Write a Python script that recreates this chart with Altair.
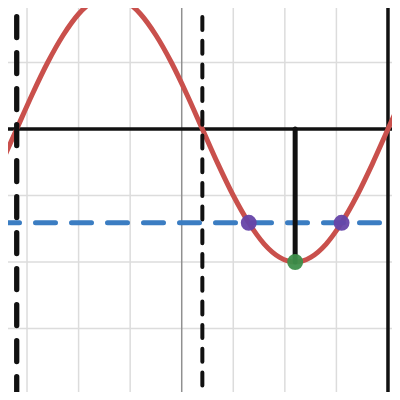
import altair as alt
import pandas as pd

# sine curve (x in grid units, y in grid units)
curve_x = [-7.8, -7.5, -7.2, -6.9, -6.6, -6.3, -6.0, -5.7, -5.4, -5.1, -4.8, -4.5, -4.2,
           -3.9, -3.6, -3.3, -3.0, -2.7, -2.4, -2.1, -1.8, -1.5, -1.2, -0.9, -0.6, -0.3,
           0.0, 0.3]
curve_y = [-1.0, -0.52, 0.0, 0.52, 1.0, 1.41, 1.73, 1.93, 2.0, 1.93, 1.73, 1.41, 1.0,
           0.52, 0.0, -0.52, -1.0, -1.41, -1.73, -1.93, -2.0, -1.93, -1.73, -1.41, -1.0,
           -0.52, 0.0, 0.52]

minor_x = [-7, -6, -5, -3, -2, -1]
minor_y = [1, -1, -2, -3]
major_x = [-4]
major_y = [-4]

level_y = -1.41          # blue dashed line
dash_left_x = -7.2       # thick dashed vertical
dash_mid_x = -3.6        # thin dashed vertical
min_x, min_y = -1.8, -2.0
cross_x = [-2.7, -0.9]

x_lo, x_hi = -7.369, 0.078
y_lo, y_hi = -3.955, 1.82

xs = alt.Scale(domain=[x_lo, x_hi], nice=False, zero=False)
ys = alt.Scale(domain=[y_lo, y_hi], nice=False, zero=False)
X = lambda f: alt.X(f, scale=xs, axis=None)
Y = lambda f: alt.Y(f, scale=ys, axis=None)

grid_v = alt.Chart(pd.DataFrame({"x": minor_x})).mark_rule(
    color="#dcdcdc", strokeWidth=1.5, clip=True).encode(x=X("x:Q"))
grid_h = alt.Chart(pd.DataFrame({"y": minor_y})).mark_rule(
    color="#dcdcdc", strokeWidth=1.5, clip=True).encode(y=Y("y:Q"))
major_v = alt.Chart(pd.DataFrame({"x": major_x})).mark_rule(
    color="#909090", strokeWidth=1.5, clip=True).encode(x=X("x:Q"))
major_h = alt.Chart(pd.DataFrame({"y": major_y})).mark_rule(
    color="#909090", strokeWidth=1.5, clip=True).encode(y=Y("y:Q"))

axis_h = alt.Chart(pd.DataFrame({"y": [0]})).mark_rule(
    color="#111111", strokeWidth=3.3, clip=True).encode(y=Y("y:Q"))
axis_v = alt.Chart(pd.DataFrame({"x": [0]})).mark_rule(
    color="#111111", strokeWidth=3.5, clip=True).encode(x=X("x:Q"))

sine = alt.Chart(pd.DataFrame({"x": curve_x, "y": curve_y})).mark_line(
    color="#c9504c", strokeWidth=5, interpolate="monotone", clip=True
).encode(x=X("x:Q"), y=Y("y:Q"), order="x:Q")

# dashed verticals drawn top -> bottom so the dash phase is known
vert = pd.DataFrame({"x": [dash_left_x, dash_mid_x], "top": [y_hi] * 2, "bot": [y_lo] * 2})
dash_left = alt.Chart(vert.iloc[[0]]).mark_rule(
    color="#111111", strokeWidth=5.3, strokeDash=[21, 15], strokeDashOffset=27.4,
    strokeCap="round", clip=True).encode(x=X("x:Q"), y=Y("top:Q"), y2="bot:Q")
dash_mid = alt.Chart(vert.iloc[[1]]).mark_rule(
    color="#111111", strokeWidth=4, strokeDash=[13, 10.7], strokeDashOffset=14.7,
    strokeCap="round", clip=True).encode(x=X("x:Q"), y=Y("top:Q"), y2="bot:Q")

# blue level line drawn left -> right
level = alt.Chart(pd.DataFrame({"y": [level_y], "l": [x_lo], "r": [x_hi]})).mark_rule(
    color="#3b7dc2", strokeWidth=5, strokeDash=[20, 16], strokeDashOffset=8.5,
    strokeCap="round", clip=True).encode(y=Y("y:Q"), x=X("l:Q"), x2="r:Q")

seg = alt.Chart(pd.DataFrame({"x": [min_x], "y": [0.0], "y2": [min_y]})).mark_rule(
    color="#111111", strokeWidth=5, strokeCap="round"
).encode(x=X("x:Q"), y=Y("y:Q"), y2="y2:Q")

purple = alt.Chart(pd.DataFrame({"x": cross_x, "y": [level_y] * 2})).mark_circle(
    color="#6645a8", size=254, opacity=0.95).encode(x=X("x:Q"), y=Y("y:Q"))
green = alt.Chart(pd.DataFrame({"x": [min_x], "y": [min_y]})).mark_circle(
    color="#3e8f4b", size=254, opacity=0.95).encode(x=X("x:Q"), y=Y("y:Q"))

chart = alt.layer(
    grid_v, grid_h, major_v, major_h, axis_h, axis_v,
    sine, dash_left, dash_mid, level, seg, purple, green
).properties(
    width=384, height=384, padding=0, background="white"
).configure_view(stroke=None)

chart.save("out.html", embed_options={"renderer": "svg", "actions": False})
